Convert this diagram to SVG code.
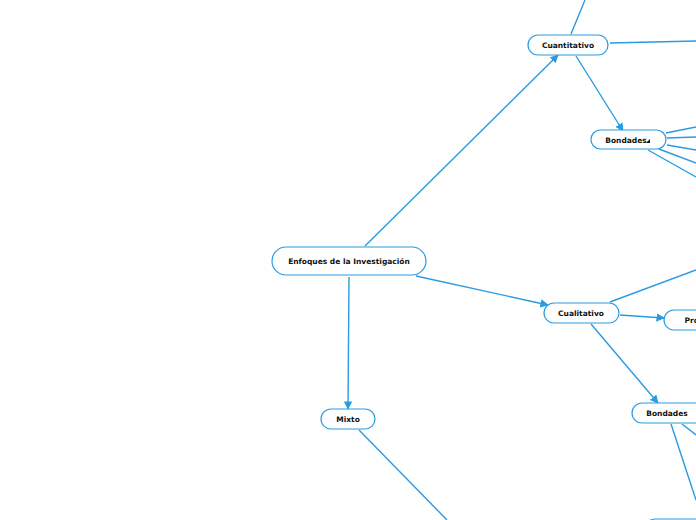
<svg xmlns="http://www.w3.org/2000/svg" width="696" height="520" viewBox="0 0 696 520">
<style>
.n rect{fill:#fff;stroke:#2a9be0;stroke-width:1.2}
.n text{font-family:"DejaVu Sans",sans-serif;font-weight:bold;font-size:7.5px;fill:#111;text-anchor:middle}
#c line{stroke:#2a9be0;stroke-width:1.4}
</style>
<defs><marker id="a" viewBox="0 0 10 10" refX="9" refY="5" markerWidth="6" markerHeight="6" orient="auto"><path d="M0,0L10,5L0,10z" fill="#2a9be0"/></marker></defs>
<rect width="696" height="520" fill="#fff"/>
<g id="c">
<line x1="365" y1="246" x2="558" y2="55" marker-end="url(#a)"/>
<line x1="416" y1="276" x2="548" y2="305" marker-end="url(#a)"/>
<line x1="349" y1="277" x2="348" y2="409" marker-end="url(#a)"/>
<line x1="571" y1="34" x2="585" y2="0"/>
<line x1="610" y1="43" x2="696" y2="41"/>
<line x1="576" y1="56" x2="623" y2="131" marker-end="url(#a)"/>
<line x1="666" y1="133" x2="696" y2="127"/>
<line x1="667" y1="138" x2="696" y2="137"/>
<line x1="667" y1="145" x2="696" y2="150"/>
<line x1="659" y1="149" x2="696" y2="163"/>
<line x1="648" y1="150" x2="696" y2="177"/>
<line x1="610" y1="302" x2="696" y2="270"/>
<line x1="620" y1="315" x2="664" y2="318" marker-end="url(#a)"/>
<line x1="591" y1="324" x2="658" y2="403" marker-end="url(#a)"/>
<line x1="671" y1="424" x2="696" y2="500"/>
<line x1="682" y1="424" x2="696" y2="435"/>
<line x1="359" y1="430" x2="447" y2="520"/>
</g>
<g id="n1" class="n"><rect x="272" y="247" width="154" height="28" rx="14"/><text x="349" y="264">Enfoques de la Investigación</text></g>
<g id="n2" class="n"><rect x="528" y="35" width="80" height="20" rx="10"/><text x="568" y="48">Cuantitativo</text></g>
<g id="n3" class="n"><rect x="591" y="130" width="75" height="19" rx="9.5"/><text x="626" y="143">Bondades</text><path d="M646,143L650,139L650,143z" fill="#111"/></g>
<g id="n4" class="n"><rect x="544" y="303" width="75" height="20" rx="10"/><text x="581" y="316">Cualitativo</text></g>
<g id="n5" class="n"><rect x="664" y="310" width="60" height="20" rx="10"/><text x="694" y="323">Proc</text></g>
<g id="n6" class="n"><rect x="632" y="403" width="80" height="20" rx="10"/><text x="667" y="416">Bondades</text></g>
<g id="n7" class="n"><rect x="321" y="409" width="54" height="20" rx="10"/><text x="348" y="422">Mixto</text></g>
<g id="n8" class="n"><rect x="645" y="519" width="80" height="20" rx="10"/></g>
</svg>
